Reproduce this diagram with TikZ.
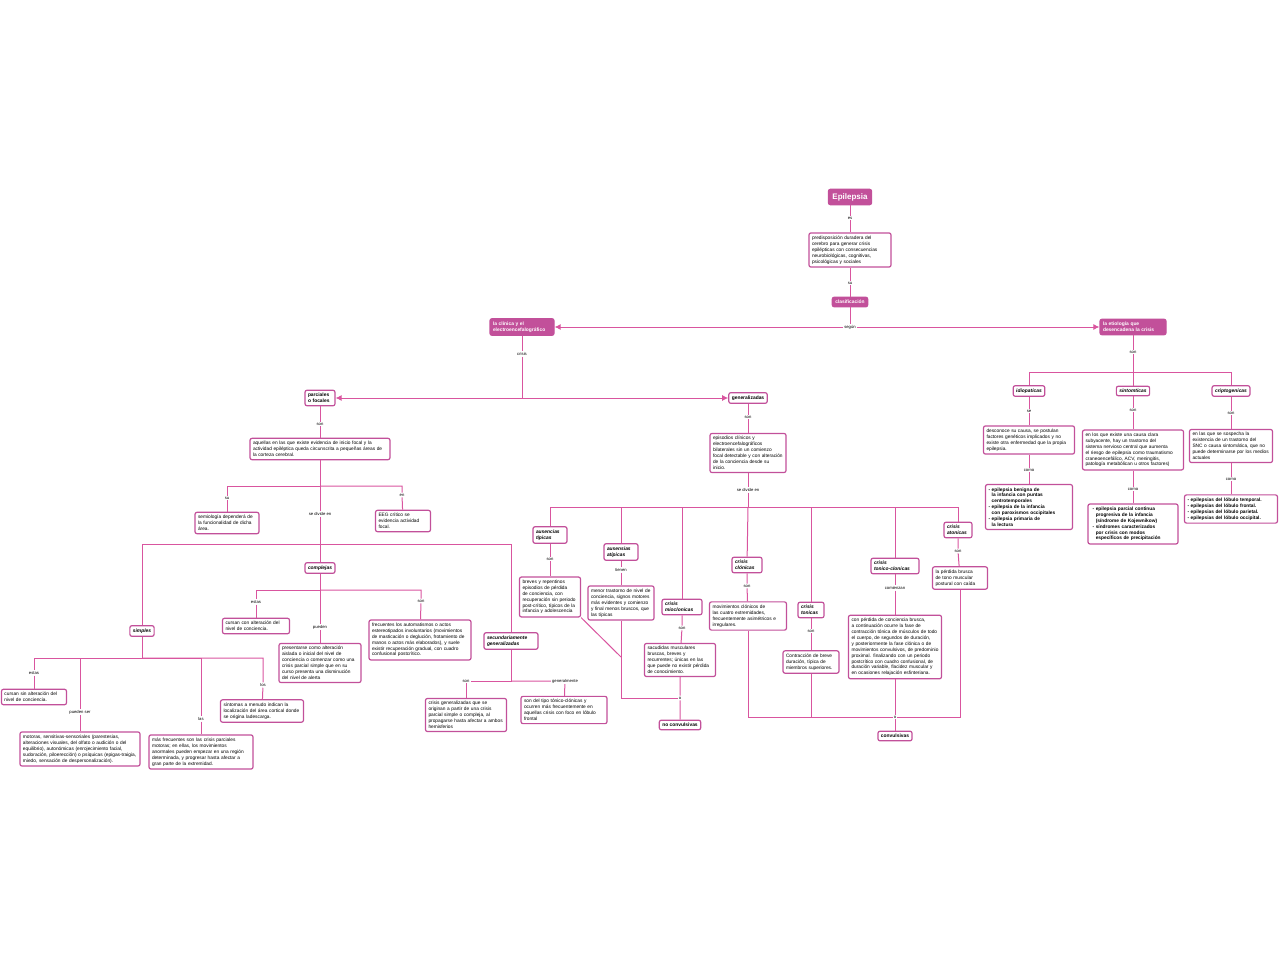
\documentclass[tikz,border=0pt]{standalone}
\usepackage{fontspec}
\setmainfont{Liberation Sans}
\usetikzlibrary{arrows.meta}
\definecolor{epi}{HTML}{C2509A}
\definecolor{epiline}{HTML}{D9559F}
\hyphenpenalty=10000
\exhyphenpenalty=10000
\tikzset{
  box/.style={draw=epi, line width=1.2pt, rounded corners=2pt, fill=white, align=left,
    inner sep=3pt, font=\fontsize{4.8}{5.9}\selectfont},
  hd/.style={box, font=\fontsize{4.9}{5.9}\selectfont\bfseries},
  hdi/.style={hd, font=\fontsize{4.9}{5.9}\selectfont\bfseries\itshape},
  hdfill/.style={hd, fill=epi, text=white},
  lbl/.style={fill=white, inner sep=1pt, font=\fontsize{4.2}{4.7}\selectfont},
  link/.style={draw=epiline, line width=1pt},
  tip/.style={-{Latex[length=6pt,width=6pt]}}
}
\begin{document}
\begin{tikzpicture}[x=1pt,y=-1pt]
    \useasboundingbox (0,0) rectangle (1280,963);

    % root
    \node[hdfill, font=\fontsize{8}{9}\selectfont\bfseries, inner sep=4pt] (epil) at (850,197) {Epilepsia};
    \node[lbl] (es) at (850,218) {es};
    \node[box, text width=76pt] (pred) at (850,250) {predisposición duradera del cerebro para generar crisis epilépticas con consecuencias neurobiológicas, cognitivas, psicológicas y sociales};
    \node[lbl] (su) at (850,283) {su};
    \node[hdfill] (clas) at (850,302) {clasificación};
    \node[lbl] (segun) at (850,327) {según};
    \node[hdfill, text width=58pt] (clin) at (522,327) {la clínica y el electroencefalográfico};
    \node[hdfill, text width=60pt] (etio) at (1133,327) {la etiología que desencadena la crisis};

    \draw[link] (epil) -- (es) -- (pred) -- (su) -- (clas) -- (segun);
    \draw[link,tip] (segun) -- (clin);
    \draw[link,tip] (segun) -- (etio);

    % clinica
    \node[lbl] (crisis) at (522,354) {crisis};
    \coordinate (c1) at (522,398);
    \node[hd, text width=24pt] (parc) at (320,398) {parciales o focales};
    \node[hd] (gen) at (748,398) {generalizadas};
    \draw[link] (clin) -- (crisis) -- (c1);
    \draw[link,tip] (c1) -- (parc);
    \draw[link,tip] (c1) -- (gen);

    % parciales
    \node[lbl] (son1) at (320,424) {son};
    \node[box, text width=134pt] (aquel) at (320,449) {aquellas en las que existe evidencia de inicio focal y la actividad epiléptica queda circunscrita a pequeñas áreas de la corteza cerebral.};
    \coordinate (c2) at (320,486);
    \node[lbl] (su2) at (227,498) {su};
    \node[box, text width=58pt] (semio) at (227,523) {semiología dependerá de la funcionalidad de dicha área.};
    \node[lbl] (en1) at (402,495) {en};
    \node[box, text width=49pt] (eeg) at (403,521) {EEG crítico se evidencia actividad focal.};
    \node[lbl] (div1) at (320,514) {se divide en};
    \coordinate (c3) at (320,544);
    \draw[link] (parc) -- (son1) -- (aquel) -- (c2);
    \draw[link] (c2) -| (su2) -- (semio);
    \draw[link] (c2) -| (en1) -- (eeg);
    \draw[link] (c2) -- (div1) -- (c3);

    \node[hdi] (simp) at (142,631) {simples};
    \node[hdi] (compl) at (320,568) {complejas};
    \node[hdi, text width=48pt] (secg) at (511,641) {secundariamente generalizadas};
    \draw[link] (c3) -| (simp);
    \draw[link] (c3) -- (compl);
    \draw[link] (c3) -| (secg);

    % complejas
    \coordinate (c4) at (320,590);
    \node[lbl] (estas1) at (256,602) {estas};
    \node[box, text width=61pt] (curs1) at (256,626) {cursan con alteración del nivel de conciencia.};
    \node[lbl] (pued) at (320,627) {pueden};
    \node[box, text width=76pt] (pres) at (320,663) {presentarse como alteración aislada o inicial del nivel de conciencia o comenzar como una crisis parcial simple que en su curso presenta una disminución del nivel de alerta};
    \node[lbl] (son2) at (421,601) {son};
    \node[box, text width=96pt] (frec) at (420,640) {frecuentes los automatismos o actos estereotipados involuntarios (movimientos de masticación o deglución, frotamiento de manos o actos más elaborados), y suele existir recuperación gradual, con cuadro confusional postcrítico.};
    \draw[link] (compl) -- (c4);
    \draw[link] (c4) -| (estas1) -- (curs1);
    \draw[link] (c4) -- (pued) -- (pres);
    \draw[link] (c4) -| (son2) -- (frec);

    % simples
    \coordinate (c5) at (142,658);
    \node[lbl] (estas2) at (34,673) {estas};
    \node[box, text width=59pt] (curs2) at (34,697) {cursan sin alteración del nivel de conciencia.};
    \node[lbl] (pser) at (80,712) {pueden ser};
    \node[box, text width=114pt] (motor) at (80,749) {motoras, sensitivas-sensoriales (parestesias, alteraciones visuales, del olfato o audición o del equilibrio), autonómicas (enrojecimiento facial, sudoración, piloerección) o psíquicas (epigas-traigia, miedo, sensación de despersonalización).};
    \node[lbl] (las) at (201,719) {las};
    \node[box, text width=98pt] (masf) at (201,752) {más frecuentes son las crisis parciales motoras; en ellas, los movimientos anormales pueden empezar en una región determinada, y progresar hasta afectar a gran parte de la extremidad.};
    \node[lbl] (los) at (263,685) {los};
    \node[box, text width=77pt] (sint) at (262,711) {síntomas a menudo indican la localización del área cortical donde se origina ladescarga.};
    \draw[link] (simp) -- (c5);
    \draw[link] (c5) -| (estas2) -- (curs2);
    \draw[link] (c5) -| (pser) -- (motor);
    \draw[link] (c5) -| (las) -- (masf);
    \draw[link] (c5) -| (los) -- (sint);

    % secundariamente generalizadas
    \coordinate (c6) at (511,681);
    \node[lbl] (son3) at (466,681) {son};
    \node[box, text width=75pt] (crgen) at (466,715) {crisis generalizadas que se originan a partir de una crisis parcial simple o compleja, al propagarse hasta afectar a ambos hemisferios};
    \node[lbl] (gralm) at (565,681) {generalmente};
    \node[box, text width=80pt] (deltipo) at (564,710) {son del tipo tónico-clónicas y ocurren más frecuentemente en aquellas crisis con foco en lóbulo frontal};
    \draw[link] (secg) -- (c6) -- (son3) -- (crgen);
    \draw[link] (c6) -- (gralm) -- (deltipo);

    % generalizadas
    \node[lbl] (son4) at (748,417) {son};
    \node[box, text width=70pt] (episod) at (748,453) {episodios clínicos y electroencefalográficos bilaterales sin un comienzo focal detectable y con alteración de la conciencia desde su inicio.};
    \node[lbl] (div2) at (748,490) {se divide en};
    \coordinate (c7) at (748,507);
    \draw[link] (gen) -- (son4) -- (episod) -- (div2) -- (c7);

    \node[hdi, text width=28pt] (aust) at (550,535) {ausencias típicas};
    \node[hdi, text width=28pt] (ausa) at (621,552) {ausensias atípicas};
    \node[hdi, text width=34pt] (mioc) at (682,607) {crisis mioclonicas};
    \node[hdi, text width=24pt] (clon) at (747,565) {crisis clónicas};
    \node[hdi, text width=20pt] (toni) at (811,610) {crisis tonicas};
    \node[hdi, text width=42pt] (tocl) at (895,566) {crisis tonico-clonicas};
    \node[hdi, text width=22pt] (aton) at (958,530) {crisis atonicas};
    \draw[link] (c7) -| (aust);
    \draw[link] (c7) -| (ausa);
    \draw[link] (c7) -| (mioc);
    \draw[link] (c7) -- (clon);
    \draw[link] (c7) -| (toni);
    \draw[link] (c7) -| (tocl);
    \draw[link] (c7) -| (aton);

    \node[lbl] (son5) at (550,559) {son};
    \node[box, text width=55pt] (breves) at (550,597) {breves y repentinos episodios de pérdida de conciencia, con recuperación sin periodo post-crítico, típicos de la infancia y adolescencia};
    \node[lbl] (tien) at (621,570) {tienen};
    \node[box, text width=60pt] (menor) at (621,603) {menor trastorno de nivel de conciencia, signos motores más evidentes y comienzo y final menos bruscos, que las típicas};
    \node[lbl] (son6) at (682,628) {son};
    \node[box, text width=65pt] (sacud) at (680,660) {sacudidas musculares bruscas, breves y recurrentes; únicas en las que puede no existir pérdida de conocimiento.};
    \node[lbl] (o1) at (680,698) {o};
    \node[hd] (nconv) at (680,725) {no convulsivas};
    \coordinate (c8) at (621,657);
    \coordinate (c9) at (621,698);
    \draw[link] (aust) -- (son5) -- (breves);
    \draw[link] (breves.south east) -- (c8);
    \draw[link] (ausa) -- (tien) -- (menor) -- (c9) -- (o1);
    \draw[link] (mioc) -- (son6) -- (sacud) -- (o1) -- (nconv);

    \node[lbl] (son7) at (747,586) {son};
    \node[box, text width=71pt] (movim) at (748,616) {movimientos clónicos de las cuatro extremidades, frecuentemente asimétricos e irregulares.};
    \node[lbl] (son8) at (811,631) {son};
    \node[box, text width=50pt] (contr) at (811,662) {Contracción de breve duración, típica de miembros superiores.};
    \node[lbl] (comien) at (895,588) {comienzan};
    \node[box, text width=87pt] (conper) at (895,647) {con pérdida de conciencia brusca, a continuación ocurre la fase de contracción tónica de músculos de todo el cuerpo, de segundos de duración, y posteriormente la fase clónica o de movimientos convulsivos, de predominio proximal. finalizando con un periodo postcrítico con cuadro confusional, de duración variable, flacidez muscular y en ocasiones relajación esfinteriana.};
    \node[lbl] (son9) at (958,551) {son};
    \node[box, text width=49pt] (perdb) at (960,578) {la pérdida brusca de tono muscular postural con caída};
    \node[lbl] (o2) at (895,717) {o};
    \node[hd] (conv) at (895,736) {convulsivas};
    \draw[link] (clon) -- (son7) -- (movim);
    \draw[link] (toni) -- (son8) -- (contr);
    \draw[link] (tocl) -- (comien) -- (conper) -- (o2) -- (conv);
    \draw[link] (aton) -- (son9) -- (perdb);
    \draw[link] (movim) |- (o2);
    \draw[link] (contr) |- (o2);
    \draw[link] (perdb) |- (o2);

    % etiologia
    \node[lbl] (son10) at (1133,352) {son};
    \coordinate (c10) at (1133,372);
    \node[hdi] (idio) at (1029,391) {idiopaticas};
    \node[hdi] (sinto) at (1133,391) {sintomticas};
    \node[hdi] (cripto) at (1231,391) {criptogenicas};
    \draw[link] (etio) -- (son10) -- (c10);
    \draw[link] (c10) -| (idio);
    \draw[link] (c10) -- (sinto);
    \draw[link] (c10) -| (cripto);

    \node[lbl] (se1) at (1029,411) {se};
    \node[box, text width=85pt] (desc) at (1029,440) {desconoce su causa, se postulan factores genéticos implicados y no existe otra enfermedad que la propia epilepsia.};
    \node[lbl] (como1) at (1029,470) {como};
    \node[box, text width=81pt, font=\fontsize{4.8}{5.9}\selectfont\bfseries] (lista1) at (1029,507) {- epilepsia benigna de\\\ \ la infancia con puntas\\\ \ centrotemporales\\- epilepsia de la infancia\\\ \ con paroxismos occipitales\\- epilepsia primaria de\\\ \ la lectura};
    \draw[link] (idio) -- (se1) -- (desc) -- (como1) -- (lista1);

    \node[lbl] (son11) at (1133,410) {son};
    \node[box, text width=95pt] (enlos) at (1133,450) {en los que existe una causa clara subyacente, hay un trastorno del sistema nervioso central que aumenta el riesgo de epilepsia como traumatismo craneoencefálico, ACV, meningitis, patología metabólican u otros factores)};
    \node[lbl] (como2) at (1133,489) {como};
    \node[box, text width=84pt, font=\fontsize{4.8}{5.9}\selectfont\bfseries] (lista2) at (1133,524) {\ - epilepsia parcial continua\\\ \ \ progresiva de la infancia\\\ \ \ (síndrome de Kojewnikow)\\\ - síndromes caracterizados\\\ \ \ por crisis con modos\\\ \ \ específicos de precipitación};
    \draw[link] (sinto) -- (son11) -- (enlos) -- (como2) -- (lista2);

    \node[lbl] (son12) at (1231,413) {son};
    \node[box, text width=77pt] (enlas) at (1231,446) {en las que se sospecha la existencia de un trastorno del SNC o causa sintomática, que no puede determinarse por los medios actuales};
    \node[lbl] (como3) at (1231,479) {como};
    \node[box, text width=87pt, font=\fontsize{4.8}{5.9}\selectfont\bfseries] (lista3) at (1231,509) {- epilepsias del lóbulo temporal.\\- epilepsias del lóbulo frontal.\\- epilepsias del lóbulo parietal.\\- epilepsias del lóbulo occipital.};
    \draw[link] (cripto) -- (son12) -- (enlas) -- (como3) -- (lista3);

\end{tikzpicture}
\end{document}
